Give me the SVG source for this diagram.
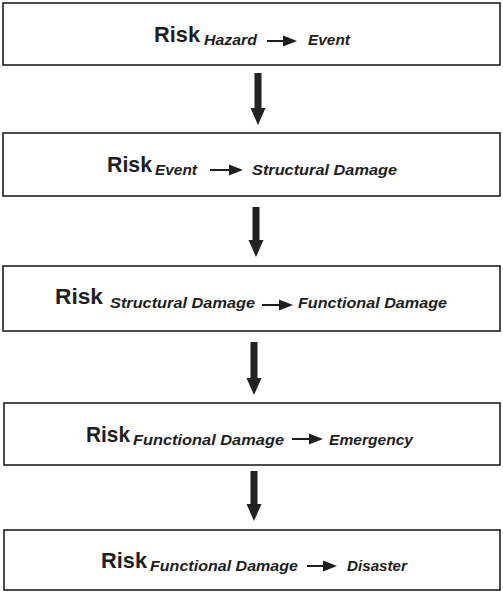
<svg xmlns="http://www.w3.org/2000/svg" width="503" height="593" viewBox="0 0 503 593">
<style>
.box{fill:#fff;stroke:#1e1e1e;stroke-width:1.6}
.risk{font-family:"Liberation Sans",Arial,sans-serif;font-weight:bold;font-size:22px;fill:#1e1e1e}
.sub{font-family:"Liberation Sans",Arial,sans-serif;font-weight:bold;font-style:italic;font-size:14.5px;fill:#1e1e1e}
.ia{stroke:#1e1e1e;stroke-width:2}
.ah{fill:#1e1e1e}
.conn{fill:#222}
</style>
<rect width="503" height="593" fill="#fff"/>
<g id="node1">
<rect class="box" x="3" y="3" width="497" height="62"/>
<text class="risk" x="154" y="42" textLength="46" lengthAdjust="spacingAndGlyphs">Risk</text>
<text class="sub" x="204" y="45" textLength="53" lengthAdjust="spacingAndGlyphs">Hazard</text>
<line class="ia" x1="267" y1="41" x2="285" y2="41"/><polygon class="ah" points="283,35.5 297,41 283,46.5"/>
<text class="sub" x="308" y="45" textLength="42" lengthAdjust="spacingAndGlyphs">Event</text>
</g>
<g id="node2">
<rect class="box" x="3" y="133" width="497" height="63"/>
<text class="risk" x="107" y="172" textLength="45" lengthAdjust="spacingAndGlyphs">Risk</text>
<text class="sub" x="155" y="175" textLength="42" lengthAdjust="spacingAndGlyphs">Event</text>
<line class="ia" x1="210" y1="170" x2="231" y2="170"/><polygon class="ah" points="229,164.5 243,170 229,175.5"/>
<text class="sub" x="252" y="175" textLength="145" lengthAdjust="spacingAndGlyphs">Structural Damage</text>
</g>
<g id="node3">
<rect class="box" x="3" y="266" width="497" height="65"/>
<text class="risk" x="55" y="304" textLength="48" lengthAdjust="spacingAndGlyphs">Risk</text>
<text class="sub" x="110" y="308" textLength="145" lengthAdjust="spacingAndGlyphs">Structural Damage</text>
<line class="ia" x1="262" y1="305" x2="281" y2="305"/><polygon class="ah" points="279,299.5 293,305 279,310.5"/>
<text class="sub" x="298" y="308" textLength="149" lengthAdjust="spacingAndGlyphs">Functional Damage</text>
</g>
<g id="node4">
<rect class="box" x="4" y="403" width="496" height="62"/>
<text class="risk" x="86" y="442" textLength="44" lengthAdjust="spacingAndGlyphs">Risk</text>
<text class="sub" x="133" y="445" textLength="151" lengthAdjust="spacingAndGlyphs">Functional Damage</text>
<line class="ia" x1="292" y1="439" x2="311" y2="439"/><polygon class="ah" points="309,433.5 323,439 309,444.5"/>
<text class="sub" x="329" y="445" textLength="84" lengthAdjust="spacingAndGlyphs">Emergency</text>
</g>
<g id="node5">
<rect class="box" x="4" y="530" width="496" height="60"/>
<text class="risk" x="101" y="568" textLength="46" lengthAdjust="spacingAndGlyphs">Risk</text>
<text class="sub" x="150" y="571" textLength="148" lengthAdjust="spacingAndGlyphs">Functional Damage</text>
<line class="ia" x1="307" y1="566" x2="325" y2="566"/><polygon class="ah" points="323,560.5 337,566 323,571.5"/>
<text class="sub" x="347" y="571" textLength="60" lengthAdjust="spacingAndGlyphs">Disaster</text>
</g>
<g id="connectors">
<polygon class="conn" points="254.5,73 261.5,73 261.5,108 265.5,108 258,125 250.5,108 254.5,108"/>
<polygon class="conn" points="252.5,207 259.5,207 259.5,240 263.5,240 256,257 248.5,240 252.5,240"/>
<polygon class="conn" points="250.5,342 257.5,342 257.5,378 261.5,378 254,395 246.5,378 250.5,378"/>
<polygon class="conn" points="250.5,471 257.5,471 257.5,504 261.5,504 254,521 246.5,504 250.5,504"/>
</g>
</svg>
